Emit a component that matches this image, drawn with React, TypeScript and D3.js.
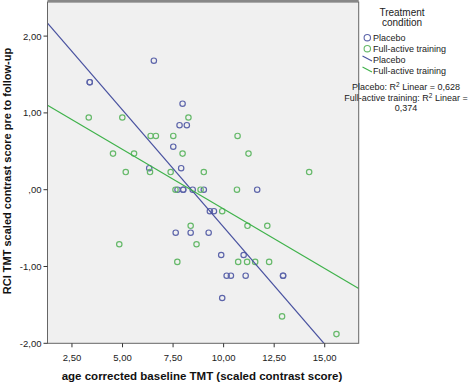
import React from "react";
import * as d3 from "d3";

const placeboX = [6.55, 3.38, 3.38, 7.97, 7.82, 8.18, 7.51, 7.90, 6.32, 7.72, 8.00, 8.00, 8.47, 9.02, 11.66, 9.32, 9.52, 7.63, 8.37, 9.26, 9.88, 10.99, 10.15, 10.36, 11.09, 12.94, 12.94, 9.93];
const placeboY = [1.68, 1.40, 1.40, 1.12, 0.84, 0.84, 0.56, 0.28, 0.28, 0.00, 0.00, 0.00, 0.00, 0.00, 0.00, -0.28, -0.28, -0.56, -0.56, -0.56, -0.85, -0.85, -1.12, -1.12, -1.12, -1.12, -1.12, -1.41];

const activeX = [3.33, 4.99, 8.26, 6.39, 6.65, 7.51, 10.69, 4.53, 5.57, 7.97, 11.23, 5.16, 6.36, 7.38, 9.02, 14.23, 7.62, 8.86, 10.66, 9.93, 8.37, 11.18, 12.16, 4.84, 8.66, 7.71, 10.72, 11.16, 11.56, 12.25, 12.89, 15.58];
const activeY = [0.94, 0.94, 0.94, 0.70, 0.70, 0.70, 0.70, 0.47, 0.47, 0.47, 0.47, 0.23, 0.23, 0.23, 0.23, 0.23, 0.00, 0.00, 0.00, -0.28, -0.47, -0.47, -0.47, -0.71, -0.71, -0.94, -0.94, -0.94, -0.94, -0.94, -1.65, -1.88];

// fit lines: [intercept, slope]
const placeboFit = [2.563, -0.305];
const activeFit = [1.30, -0.155];

const xTicks = [2.5, 5, 7.5, 10, 12.5, 15];
const xTickLabels = ["2,50", "5,00", "7,50", "10,00", "12,50", "15,00"];
const yTicks = [2, 1, 0, -1, -2];
const yTickLabels = ["2,00", "1,00", ",00", "-1,00", "-2,00"];

const BLUE_PT = "#5d65aa";
const GREEN_PT = "#66b96a";
const BLUE_LN = "#48519f";
const GREEN_LN = "#3fb24b";
const FONT = "Liberation Sans, Arial, sans-serif";

export default function App() {
  const L = 47.5, R = 358.7, T = 2, B = 343.3;
  const x = d3.scaleLinear().domain([1.29, 16.68]).range([L, R]);
  const y = d3.scaleLinear().domain([-2, 2.444]).range([B, T]);
  const line = d3.line<number>().x((d) => x(d[0])).y((d) => y(d[1]));
  const fitPts = (f: number[]) => x.domain().map((v) => [v, f[0] + f[1] * v]);

  return (
    <svg width={474} height={383} style={{ position: "absolute", left: 0, top: 0, background: "#fff" }} fontFamily={FONT}>
      <defs>
        <clipPath id="plot">
          <rect x={L} y={T} width={R - L} height={B - T} />
        </clipPath>
      </defs>
      <rect x={L} y={T} width={R - L} height={B - T} fill="#f0f0f0" />
      <g clipPath="url(#plot)">
        {placeboX.map((v, i) => (
          <circle key={"p" + i} cx={x(v)} cy={y(placeboY[i])} r={2.7} fill="none" stroke={BLUE_PT} strokeWidth={1.2} />
        ))}
        {activeX.map((v, i) => (
          <circle key={"a" + i} cx={x(v)} cy={y(activeY[i])} r={2.7} fill="none" stroke={GREEN_PT} strokeWidth={1.2} />
        ))}
        <path d={line(fitPts(placeboFit) as any) || ""} stroke={BLUE_LN} strokeWidth={1.2} fill="none" />
        <path d={line(fitPts(activeFit) as any) || ""} stroke={GREEN_LN} strokeWidth={1.2} fill="none" />
      </g>
      <rect x={L} y={T} width={R - L} height={B - T} fill="none" stroke="#666" strokeWidth={1} />
      <line x1={L} x2={R} y1={1} y2={1} stroke="#888" strokeWidth={2} />
      {yTicks.map((t, i) => (
        <g key={"yt" + i}>
          <line x1={L - 4} x2={L} y1={y(t)} y2={y(t)} stroke="#333" />
          <text x={L - 6} y={y(t) + 3.5} fontSize={9.5} textAnchor="end" fill="#222">{yTickLabels[i]}</text>
        </g>
      ))}
      {xTicks.map((t, i) => (
        <g key={"xt" + i}>
          <line x1={x(t)} x2={x(t)} y1={B} y2={B + 4} stroke="#333" />
          <text x={x(t)} y={B + 18} fontSize={9.5} textAnchor="middle" fill="#222">{xTickLabels[i]}</text>
        </g>
      ))}
      <text x={202} y={380} fontSize={11.5} fontWeight="bold" textAnchor="middle" fill="#111">
        age corrected baseline TMT (scaled contrast score)
      </text>
      <text transform="translate(11,171) rotate(-90)" fontSize={11} fontWeight="bold" textAnchor="middle" fill="#111">
        RCI TMT scaled contrast score pre to follow-up
      </text>
      <g fontSize={9} fill="#222">
        <text x={402} y={16} fontSize={10} textAnchor="middle">Treatment</text>
        <text x={402} y={26} fontSize={10} textAnchor="middle">condition</text>
        <circle cx={367.3} cy={37.7} r={3.2} fill="none" stroke={BLUE_PT} strokeWidth={1.1} />
        <text x={373} y={41}>Placebo</text>
        <circle cx={367.3} cy={48.7} r={3.2} fill="none" stroke={GREEN_PT} strokeWidth={1.1} />
        <text x={373} y={52}>Full-active training</text>
        <line x1={362.5} y1={56} x2={372} y2={61} stroke={BLUE_LN} strokeWidth={1.1} />
        <text x={373} y={63}>Placebo</text>
        <line x1={362.5} y1={67} x2={372} y2={72} stroke={GREEN_LN} strokeWidth={1.1} />
        <text x={373} y={73.5}>Full-active training</text>
        <text x={406} y={90} textAnchor="middle">
          Placebo: R<tspan dy={-3} fontSize={6.5}>2</tspan><tspan dy={3}> Linear = 0,628</tspan>
        </text>
        <text x={406} y={100.5} textAnchor="middle">
          Full-active training: R<tspan dy={-3} fontSize={6.5}>2</tspan><tspan dy={3}> Linear =</tspan>
        </text>
        <text x={406} y={111} textAnchor="middle">0,374</text>
      </g>
    </svg>
  );
}
